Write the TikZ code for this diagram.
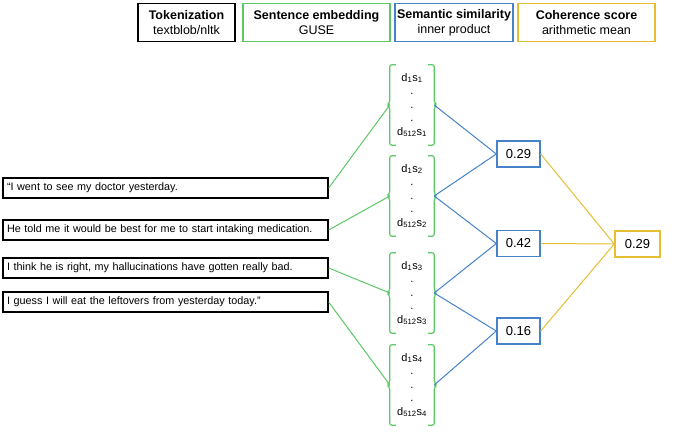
\documentclass[tikz,border=0pt]{standalone}
\usepackage{fontspec}
\setmainfont{Liberation Sans}
\usetikzlibrary{calc}
\definecolor{embgreen}{RGB}{90,200,100}
\definecolor{simblue}{RGB}{70,130,200}
\definecolor{cohyellow}{RGB}{230,190,50}
\tikzset{
    head/.style={draw,line width=1.4pt,align=center,inner sep=2pt,minimum height=38pt,font=\fontsize{12.5}{15}\selectfont},
    sent/.style={draw,line width=1.3pt,minimum width=325pt,minimum height=20pt,inner sep=3pt,text width=317pt,font=\fontsize{10.8}{12}\selectfont},
    vect/.style={minimum width=44pt,minimum height=80pt,inner sep=0pt,align=center,font=\fontsize{11}{13.5}\selectfont},
    score/.style={draw=simblue,line width=1.4pt,minimum width=43pt,minimum height=26pt,font=\fontsize{13}{14}\selectfont},
}
\newcommand{\bracketize}[1]{
    \draw[embgreen,line width=1.2pt,rounded corners=2pt]
        ($(#1.north west)+(6,0)$) -- (#1.north west) -- ($(#1.west)+(0,-3)$) -- ($(#1.west)+(-2,0)$) -- ($(#1.west)+(0,3)$) -- (#1.south west) -- ($(#1.south west)+(6,0)$);
    \draw[embgreen,line width=1.2pt,rounded corners=2pt]
        ($(#1.north east)+(-6,0)$) -- (#1.north east) -- ($(#1.east)+(0,-3)$) -- ($(#1.east)+(2,0)$) -- ($(#1.east)+(0,3)$) -- (#1.south east) -- ($(#1.south east)+(-6,0)$);
}
\begin{document}
\begin{tikzpicture}[x=1pt,y=-1pt]
    \useasboundingbox (0,0) rectangle (685,434);
    % headers
    \node[head,minimum width=97pt] (tok) at (186.5,22.5) {\textbf{Tokenization}\\textblob/nltk};
    \node[head,draw=embgreen,minimum width=147pt] (emb) at (316.5,22.5) {\textbf{Sentence embedding}\\GUSE};
    \node[head,draw=simblue,minimum width=112pt] (sim) at (454,22.5) {\textbf{Semantic similarity}\\inner product};
    \node[head,draw=cohyellow,minimum width=137pt] (coh) at (586.5,22.5) {\textbf{Coherence score}\\arithmetic mean};
    % sentences
    \foreach \i/\y/\t in {1/188/{``I went to see my doctor yesterday.},
                          2/230/{He told me it would be best for me to start intaking medication.},
                          3/268/{I think he is right, my hallucinations have gotten really bad.},
                          4/302/{I guess I will eat the leftovers from yesterday today.''}}
    {
        \node[sent] (s\i) at (165.5,\y) {\t};
    }
    % embedding vectors
    \foreach \i/\y in {1/105,2/196,3/293,4/385}
    {
        \node[vect] (v\i) at (412,\y) {d\textsubscript{1}s\textsubscript{\i}\\.\\.\\.\\d\textsubscript{512}s\textsubscript{\i}};
        \bracketize{v\i}
        \draw[embgreen,line width=1pt] (s\i.east) -- (v\i.west);
    }
    % similarities
    \node[score] (c1) at (518.5,154) {0.29};
    \node[score] (c2) at (518.5,243.5) {0.42};
    \node[score] (c3) at (518.5,331) {0.16};
    \foreach \a/\b/\c in {1/2/1,2/3/2,3/4/3}
    {
        \draw[simblue,line width=1pt] (v\a.east) -- (c\c.west) -- (v\b.east);
    }
    % coherence
    \node[score,draw=cohyellow,minimum width=45pt] (res) at (637.5,244) {0.29};
    \foreach \c in {1,2,3}
    {
        \draw[cohyellow,line width=1pt] (c\c.east) -- (res.west);
    }
\end{tikzpicture}
\end{document}
